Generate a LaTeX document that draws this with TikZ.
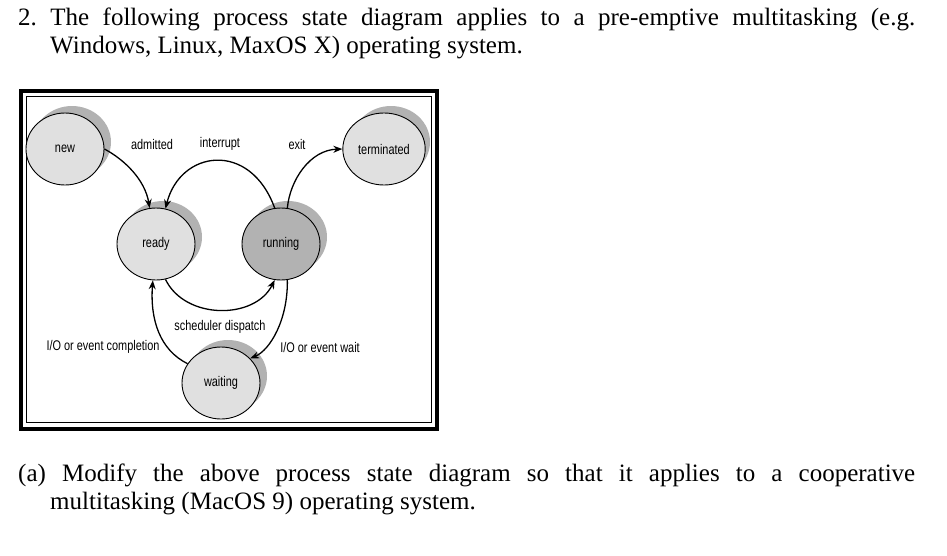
\documentclass[tikz,border=0pt]{standalone}
\usepackage{fontspec}
\setmainfont{Liberation Serif}
\newfontfamily\cond[FakeStretch=0.78]{Liberation Sans}
\usetikzlibrary{arrows.meta,shapes.geometric}
\frenchspacing
\begin{document}
\begin{tikzpicture}[x=1pt,y=-1pt,
  st/.style={ellipse,draw,line width=0.9pt,fill=black!12,minimum width=78pt,minimum height=72pt,font=\cond\fontsize{14}{16}\selectfont},
  shad/.style={ellipse,fill=black!30,minimum width=78pt,minimum height=72pt},
  lab/.style={font=\cond\fontsize{14}{16}\selectfont},
  para/.style={anchor=west,inner sep=0pt,font=\fontsize{25}{28}\selectfont},
  arr/.style={line width=1.3pt,-{Stealth[length=9pt,width=7pt]}}]
\useasboundingbox (0,0) rectangle (947,555);
\node[para] (q1) at (18,19) {\makebox[897pt][s]{2. The following process state diagram applies to a pre-emptive multitasking (e.g.}};
\node[para] (q2) at (50,48) {Windows, Linux, MaxOS X) operating system.};
\node[para] (a1) at (18,475) {\makebox[897pt][s]{(a) Modify the above process state diagram so that it applies to a cooperative}};
\node[para] (a2) at (50,504) {multitasking (MacOS 9) operating system.};
\draw[line width=4pt] (21,91) rectangle (437,429);
\draw[line width=1pt] (26,96) rectangle (431,422);
\foreach \n/\p in {sn/{(65,149)},st/{(384,149)},sr/{(156,244)},su/{(281,244)},sw/{(221,383)}}
  \node[shad,xshift=7pt,yshift=7pt] (\n) at \p {};
\node[st] (new) at (65,149) {new};
\node[st] (term) at (384,149) {terminated};
\node[st] (ready) at (156,244) {ready};
\node[st,fill=black!30] (run) at (281,244) {running};
\node[st] (wait) at (221,383) {waiting};
\node[lab] (adm) at (152,144) {admitted};
\node[lab] (intr) at (220,144) {interrupt};
\node[lab] (ex) at (297,144) {exit};
\node[lab] (sd) at (220,327) {scheduler dispatch};
\node[lab] (ioc) at (103,347) {I/O or event completion};
\node[lab] (iow) at (320,347) {I/O or event wait};
\draw[arr] (new.east) .. controls (125,160) and (145,180) .. (ready.100);
\draw[arr] (run.100) .. controls (250,140) and (180,150) .. (ready.75);
\draw[arr] (run.80) .. controls (290,180) and (310,150) .. (term.west);
\draw[arr] (ready.-75) .. controls (185,320) and (255,320) .. (run.-100);
\draw[arr] (run.-80) .. controls (288,320) and (270,350) .. (wait.40);
\draw[arr] (wait.150) .. controls (160,350) and (150,320) .. (ready.-95);
\end{tikzpicture}
\end{document}
